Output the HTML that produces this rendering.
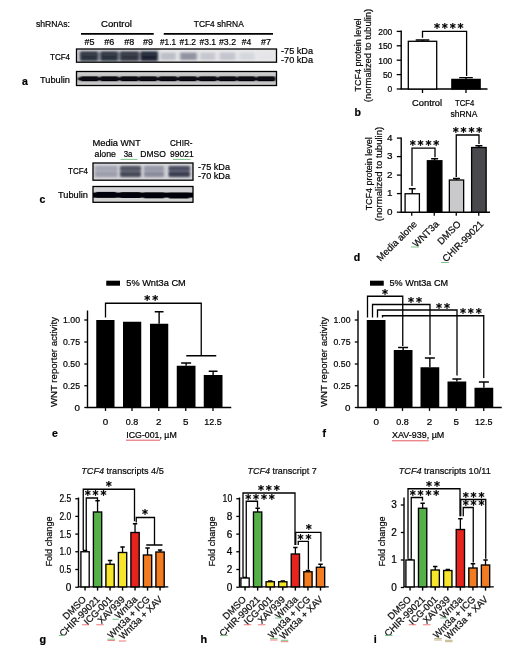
<!DOCTYPE html>
<html lang="en">
<head>
<meta charset="utf-8">
<title>TCF4 figure</title>
<style>
html,body{margin:0;padding:0;background:#fff;}
body{width:520px;height:651px;overflow:hidden;}
svg{display:block;font-family:"Liberation Sans", "DejaVu Sans", sans-serif;}
svg text{font-family:"Liberation Sans", "DejaVu Sans", sans-serif;stroke:#000;stroke-width:.22px;}
</style>
</head>
<body>
<svg width="520" height="651" viewBox="0 0 520 651">
<rect x="0" y="0" width="520" height="651" fill="#fff"/>
<defs>
<filter id="b1" x="-20%" y="-50%" width="140%" height="200%"><feGaussianBlur stdDeviation="1.1 0.9"/></filter>
<filter id="b2" x="-20%" y="-50%" width="140%" height="200%"><feGaussianBlur stdDeviation="1.6 1.2"/></filter>
<filter id="b3" x="-20%" y="-80%" width="140%" height="260%"><feGaussianBlur stdDeviation="1.3 0.8"/></filter>
<clipPath id="ca1"><rect x="76.5" y="49" width="200" height="13.2"/></clipPath>
<clipPath id="ca2"><rect x="76.5" y="71.5" width="200" height="14"/></clipPath>
<clipPath id="cc1"><rect x="93" y="163" width="100" height="17.2"/></clipPath>
<clipPath id="cc2"><rect x="93" y="186.5" width="100" height="15.8"/></clipPath>
<filter id="b4" x="-20%" y="-80%" width="140%" height="260%"><feGaussianBlur stdDeviation="1.2 0.65"/></filter>
</defs>
<text x="36" y="26.7" font-size="9.7" textLength="34" lengthAdjust="spacingAndGlyphs" fill="#000">shRNAs:</text>
<text x="101" y="26.7" font-size="9.7" textLength="31" lengthAdjust="spacingAndGlyphs" fill="#000">Control</text>
<text x="193.75" y="26.7" font-size="9.7" textLength="50" lengthAdjust="spacingAndGlyphs" fill="#000">TCF4 shRNA</text>
<path d="M81,33.8H153.75M163.75,33.8H273" fill="none" stroke="#000" stroke-width="1.8"/>
<text x="89.5" y="45.1" font-size="9.7" text-anchor="middle" textLength="10" lengthAdjust="spacingAndGlyphs" fill="#000">#5</text>
<text x="109.3" y="45.1" font-size="9.7" text-anchor="middle" textLength="10" lengthAdjust="spacingAndGlyphs" fill="#000">#6</text>
<text x="129.3" y="45.1" font-size="9.7" text-anchor="middle" textLength="10" lengthAdjust="spacingAndGlyphs" fill="#000">#8</text>
<text x="148" y="45.1" font-size="9.7" text-anchor="middle" textLength="10" lengthAdjust="spacingAndGlyphs" fill="#000">#9</text>
<text x="168" y="45.1" font-size="9.7" text-anchor="middle" textLength="16" lengthAdjust="spacingAndGlyphs" fill="#000">#1.1</text>
<text x="187.75" y="45.1" font-size="9.7" text-anchor="middle" textLength="16.5" lengthAdjust="spacingAndGlyphs" fill="#000">#1.2</text>
<text x="207.75" y="45.1" font-size="9.7" text-anchor="middle" textLength="16.5" lengthAdjust="spacingAndGlyphs" fill="#000">#3.1</text>
<text x="227.5" y="45.1" font-size="9.7" text-anchor="middle" textLength="17" lengthAdjust="spacingAndGlyphs" fill="#000">#3.2</text>
<text x="246.4" y="45.1" font-size="9.7" text-anchor="middle" textLength="9.5" lengthAdjust="spacingAndGlyphs" fill="#000">#4</text>
<text x="266" y="45.1" font-size="9.7" text-anchor="middle" textLength="10" lengthAdjust="spacingAndGlyphs" fill="#000">#7</text>
<text x="50" y="60.2" font-size="9.7" textLength="20" lengthAdjust="spacingAndGlyphs" fill="#000">TCF4</text>
<text x="40" y="82.7" font-size="9.7" textLength="30" lengthAdjust="spacingAndGlyphs" fill="#000">Tubulin</text>
<text x="281" y="53.7" font-size="9.7" textLength="32" lengthAdjust="spacingAndGlyphs" fill="#000">-75 kDa</text>
<text x="281" y="62.9" font-size="9.7" textLength="32" lengthAdjust="spacingAndGlyphs" fill="#000">-70 kDa</text>
<text x="22" y="85.2" font-size="10.5" font-weight="bold" fill="#000">a</text>
<rect x="76.50" y="49.00" width="200.00" height="13.20" fill="#e9e9ec"/>
<g clip-path="url(#ca1)">
<rect x="76.50" y="49.00" width="82.50" height="13.20" fill="#c9cad0" filter="url(#b2)"/>
<rect x="80.00" y="52.00" width="78.00" height="8.60" fill="#7c7f8c" filter="url(#b2)"/>
<rect x="80.50" y="51.80" width="17.00" height="8.80" fill="#2c303c" filter="url(#b1)"/>
<rect x="81.50" y="54.20" width="15.00" height="1.00" fill="#5b6070" filter="url(#b1)" opacity=".8"/>
<rect x="101.00" y="51.80" width="16.60" height="8.80" fill="#2c303c" filter="url(#b1)"/>
<rect x="102.00" y="54.20" width="14.60" height="1.00" fill="#5b6070" filter="url(#b1)" opacity=".8"/>
<rect x="120.50" y="51.80" width="18.00" height="8.80" fill="#30343f" filter="url(#b1)"/>
<rect x="121.50" y="54.20" width="16.00" height="1.00" fill="#5b6070" filter="url(#b1)" opacity=".8"/>
<rect x="141.00" y="51.80" width="16.30" height="8.80" fill="#1f2330" filter="url(#b1)"/>
<rect x="142.00" y="54.20" width="14.30" height="1.00" fill="#5b6070" filter="url(#b1)" opacity=".8"/>
<rect x="160.50" y="52.50" width="15.50" height="7.50" fill="#b9bac4" filter="url(#b2)" opacity="0.9"/>
<rect x="180.00" y="52.50" width="17.00" height="7.50" fill="#8d8f9e" filter="url(#b2)" opacity="0.95"/>
<rect x="200.00" y="52.50" width="15.50" height="7.50" fill="#c3c4cd" filter="url(#b2)" opacity="0.9"/>
<rect x="219.50" y="52.50" width="16.00" height="7.50" fill="#c0c1ca" filter="url(#b2)" opacity="0.9"/>
<rect x="239.00" y="52.50" width="15.50" height="7.50" fill="#d4d5db" filter="url(#b2)" opacity="0.9"/>
<rect x="258.50" y="52.50" width="15.00" height="7.50" fill="#e4e4e8" filter="url(#b2)" opacity="0.8"/>
</g>
<rect x="76.50" y="49.00" width="200.00" height="13.20" fill="none" stroke="#000" stroke-width="1.3"/>
<rect x="76.50" y="71.50" width="200.00" height="14.00" fill="#bdbdbf"/>
<g clip-path="url(#ca2)">
<rect x="76.50" y="72.00" width="200.00" height="2.50" fill="#d6d6d8" filter="url(#b3)"/>
<rect x="76.50" y="83.00" width="200.00" height="2.50" fill="#cfcfd1" filter="url(#b3)"/>
<rect x="80.70" y="76.40" width="17.60" height="4.80" fill="#06060a" filter="url(#b4)"/>
<rect x="100.50" y="76.40" width="17.60" height="4.80" fill="#06060a" filter="url(#b4)"/>
<rect x="120.50" y="76.40" width="17.60" height="4.80" fill="#06060a" filter="url(#b4)"/>
<rect x="139.20" y="76.40" width="17.60" height="4.80" fill="#06060a" filter="url(#b4)"/>
<rect x="159.20" y="76.40" width="17.60" height="4.80" fill="#06060a" filter="url(#b4)"/>
<rect x="178.95" y="76.40" width="17.60" height="4.80" fill="#06060a" filter="url(#b4)"/>
<rect x="198.95" y="76.40" width="17.60" height="4.80" fill="#06060a" filter="url(#b4)"/>
<rect x="218.70" y="76.40" width="17.60" height="4.80" fill="#06060a" filter="url(#b4)"/>
<rect x="237.60" y="76.40" width="17.60" height="4.80" fill="#06060a" filter="url(#b4)"/>
<rect x="257.20" y="76.40" width="17.60" height="4.80" fill="#06060a" filter="url(#b4)"/>
<rect x="78.00" y="77.40" width="197.00" height="2.80" fill="#101014" filter="url(#b4)"/>
</g>
<rect x="76.50" y="71.50" width="200.00" height="14.00" fill="none" stroke="#000" stroke-width="1.3"/>
<path d="M401.2,30.6V89H487.5" fill="none" stroke="#000" stroke-width="1.4"/>
<path d="M396.7,31.4H401.2" fill="none" stroke="#000" stroke-width="1.3"/>
<text x="392.3" y="34.699999999999996" font-size="9.6" text-anchor="end" textLength="14.100000000000001" lengthAdjust="spacingAndGlyphs" fill="#000">200</text>
<path d="M396.7,45.8H401.2" fill="none" stroke="#000" stroke-width="1.3"/>
<text x="392.3" y="49.099999999999994" font-size="9.6" text-anchor="end" textLength="14.100000000000001" lengthAdjust="spacingAndGlyphs" fill="#000">150</text>
<path d="M396.7,60.2H401.2" fill="none" stroke="#000" stroke-width="1.3"/>
<text x="392.3" y="63.5" font-size="9.6" text-anchor="end" textLength="14.100000000000001" lengthAdjust="spacingAndGlyphs" fill="#000">100</text>
<path d="M396.7,74.6H401.2" fill="none" stroke="#000" stroke-width="1.3"/>
<text x="392.3" y="77.89999999999999" font-size="9.6" text-anchor="end" textLength="9.4" lengthAdjust="spacingAndGlyphs" fill="#000">50</text>
<path d="M396.7,89.0H401.2" fill="none" stroke="#000" stroke-width="1.3"/>
<text x="392.3" y="92.3" font-size="9.6" text-anchor="end" textLength="4.7" lengthAdjust="spacingAndGlyphs" fill="#000">0</text>
<path d="M422.50,41.30V40.00M415.70,40.00H429.30" fill="none" stroke="#000" stroke-width="1.4"/>
<rect x="408.30" y="41.30" width="28.40" height="47.70" fill="#fff" stroke="#000" stroke-width="1.3"/>
<path d="M466.00,79.40V77.60M459.20,77.60H472.80" fill="none" stroke="#000" stroke-width="1.4"/>
<rect x="451.85" y="79.40" width="28.30" height="9.60" fill="#000" stroke="#000" stroke-width="1.3"/>
<path d="M422.5,37.8V31.4H466.6V76" fill="none" stroke="#000" stroke-width="1.3"/>
<text x="434.01 441.86 449.71 457.56" y="32.47" font-size="11.5" font-weight="bold" style="font-family:'DejaVu Sans','Liberation Sans',sans-serif" fill="#000">****</text>
<path d="M422.5,89V93M466,89V93" fill="none" stroke="#000" stroke-width="1.3"/>
<text x="411.9" y="105.8" font-size="9.7" textLength="30.3" lengthAdjust="spacingAndGlyphs" fill="#000">Control</text>
<text x="455" y="105.8" font-size="9.7" textLength="19.2" lengthAdjust="spacingAndGlyphs" fill="#000">TCF4</text>
<text x="450.4" y="116.6" font-size="9.7" textLength="27" lengthAdjust="spacingAndGlyphs" fill="#000">shRNA</text>
<text transform="translate(360.8 54.9) rotate(-90)" font-size="9.7" text-anchor="middle" textLength="73" lengthAdjust="spacingAndGlyphs" fill="#111">TCF4 protein level</text>
<text transform="translate(370.8 55.5) rotate(-90)" font-size="9.7" text-anchor="middle" textLength="93.5" lengthAdjust="spacingAndGlyphs" fill="#111">(normalized to tubulin)</text>
<text x="354.6" y="115.6" font-size="10.5" font-weight="bold" fill="#000">b</text>
<path d="M401.2,137.4V212.2H490" fill="none" stroke="#000" stroke-width="1.4"/>
<path d="M396.9,138.1H401.2" fill="none" stroke="#000" stroke-width="1.3"/>
<text x="392.4" y="140.79999999999998" font-size="9.9" text-anchor="end" fill="#000">4</text>
<path d="M396.9,156.6H401.2" fill="none" stroke="#000" stroke-width="1.3"/>
<text x="392.4" y="159.29999999999998" font-size="9.9" text-anchor="end" fill="#000">3</text>
<path d="M396.9,175.1H401.2" fill="none" stroke="#000" stroke-width="1.3"/>
<text x="392.4" y="177.79999999999998" font-size="9.9" text-anchor="end" fill="#000">2</text>
<path d="M396.9,193.6H401.2" fill="none" stroke="#000" stroke-width="1.3"/>
<text x="392.4" y="196.29999999999998" font-size="9.9" text-anchor="end" fill="#000">1</text>
<path d="M396.9,212.2H401.2" fill="none" stroke="#000" stroke-width="1.3"/>
<text x="392.4" y="214.89999999999998" font-size="9.9" text-anchor="end" fill="#000">0</text>
<path d="M412.25,193.75V188.75M408.85,188.75H415.65" fill="none" stroke="#000" stroke-width="1.4"/>
<rect x="405.10" y="193.75" width="14.30" height="18.45" fill="#fff" stroke="#000" stroke-width="1.3"/>
<path d="M434.62,160.75V158.75M431.12,158.75H438.12" fill="none" stroke="#000" stroke-width="1.4"/>
<rect x="427.35" y="160.75" width="14.55" height="51.45" fill="#000" stroke="#000" stroke-width="1.3"/>
<path d="M456.50,180.00V178.50M453.00,178.50H460.00" fill="none" stroke="#000" stroke-width="1.4"/>
<rect x="449.35" y="180.00" width="14.30" height="32.20" fill="#c9c9cb" stroke="#000" stroke-width="1.3"/>
<path d="M478.88,147.50V145.75M475.38,145.75H482.38" fill="none" stroke="#000" stroke-width="1.4"/>
<rect x="471.60" y="147.50" width="14.55" height="64.70" fill="#48484d" stroke="#000" stroke-width="1.3"/>
<path d="M412,186V148.2H435V157.3" fill="none" stroke="#000" stroke-width="1.3"/>
<text x="409.76 417.61 425.46 433.31" y="149.47" font-size="11.5" font-weight="bold" style="font-family:'DejaVu Sans','Liberation Sans',sans-serif" fill="#000">****</text>
<path d="M456.25,177V135H479V144" fill="none" stroke="#000" stroke-width="1.3"/>
<text x="452.76 460.61 468.46 476.31" y="135.87" font-size="11.5" font-weight="bold" style="font-family:'DejaVu Sans','Liberation Sans',sans-serif" fill="#000">****</text>
<path d="M411.75,212.2V215.8M434.25,212.2V215.8M456.25,212.2V215.8M478.75,212.2V215.8" fill="none" stroke="#000" stroke-width="1.3"/>
<text transform="translate(417.5 224.8) rotate(-45)" font-size="9.6" text-anchor="end" fill="#111">Media alone</text>
<text transform="translate(439.5 224.8) rotate(-45)" font-size="9.6" text-anchor="end" fill="#111">WNT3a</text>
<text transform="translate(461.5 224.8) rotate(-45)" font-size="9.6" text-anchor="end" fill="#111">DMSO</text>
<text transform="translate(484 224.8) rotate(-45)" font-size="9.6" text-anchor="end" fill="#111">CHIR-99021</text>
<path d="M411,247H419" fill="none" stroke="#6cc07a" stroke-width="0.9"/>
<path d="M441,262.5H449" fill="none" stroke="#6cc07a" stroke-width="0.9"/>
<text transform="translate(371.5 173.85) rotate(-90)" font-size="9.7" text-anchor="middle" textLength="73" lengthAdjust="spacingAndGlyphs" fill="#111">TCF4 protein level</text>
<text transform="translate(381.6 174) rotate(-90)" font-size="9.7" text-anchor="middle" textLength="94.4" lengthAdjust="spacingAndGlyphs" fill="#111">(normalized to tubulin)</text>
<text x="353.75" y="260.5" font-size="10.5" font-weight="bold" fill="#000">d</text>
<text x="92.5" y="145.9" font-size="9.7" textLength="25.5" lengthAdjust="spacingAndGlyphs" fill="#000">Media</text>
<text x="120.5" y="145.9" font-size="9.7" textLength="20" lengthAdjust="spacingAndGlyphs" fill="#000">WNT</text>
<text x="94.5" y="156.9" font-size="9.7" textLength="21.5" lengthAdjust="spacingAndGlyphs" fill="#000">alone</text>
<text x="123.75" y="156.9" font-size="9.7" textLength="8.75" lengthAdjust="spacingAndGlyphs" fill="#000">3a</text>
<text x="140.3" y="156.9" font-size="9.7" textLength="25.5" lengthAdjust="spacingAndGlyphs" fill="#000">DMSO</text>
<text x="170" y="145.9" font-size="9.7" textLength="22.5" lengthAdjust="spacingAndGlyphs" fill="#000">CHIR-</text>
<text x="170" y="156.9" font-size="9.7" textLength="23.75" lengthAdjust="spacingAndGlyphs" fill="#000">99021</text>
<path d="M120.5,159.4H137.5" fill="none" stroke="#6cc07a" stroke-width="0.9"/>
<path d="M173,159.4H190.5" fill="none" stroke="#6cc07a" stroke-width="0.9"/>
<text x="68" y="174.3" font-size="9.7" textLength="20" lengthAdjust="spacingAndGlyphs" fill="#000">TCF4</text>
<text x="58" y="197.7" font-size="9.7" textLength="30" lengthAdjust="spacingAndGlyphs" fill="#000">Tubulin</text>
<text x="198" y="169.6" font-size="9.7" textLength="32" lengthAdjust="spacingAndGlyphs" fill="#000">-75 kDa</text>
<text x="198" y="179.4" font-size="9.7" textLength="32" lengthAdjust="spacingAndGlyphs" fill="#000">-70 kDa</text>
<text x="39.5" y="202.5" font-size="10.5" font-weight="bold" fill="#000">c</text>
<rect x="93.00" y="163.00" width="100.00" height="17.20" fill="#cdcdd2"/>
<g clip-path="url(#cc1)">
<rect x="93.00" y="163.00" width="100.00" height="2.00" fill="#e2e2e6" filter="url(#b3)"/>
<rect x="93.00" y="178.00" width="100.00" height="2.20" fill="#dcdce0" filter="url(#b3)"/>
<rect x="95.50" y="166.30" width="21.50" height="10.30" fill="#a3a5b3" filter="url(#b1)" opacity=".75"/>
<rect x="95.50" y="166.60" width="21.50" height="3.80" fill="#a3a5b3" filter="url(#b1)"/>
<rect x="95.50" y="172.00" width="21.50" height="4.40" fill="#9b9dab" filter="url(#b1)"/>
<rect x="120.50" y="166.30" width="20.00" height="10.30" fill="#4f5262" filter="url(#b1)" opacity=".75"/>
<rect x="120.50" y="166.60" width="20.00" height="3.80" fill="#4f5262" filter="url(#b1)"/>
<rect x="120.50" y="172.00" width="20.00" height="4.40" fill="#444757" filter="url(#b1)"/>
<rect x="144.50" y="166.30" width="19.00" height="10.30" fill="#9698a7" filter="url(#b1)" opacity=".75"/>
<rect x="144.50" y="166.60" width="19.00" height="3.80" fill="#9698a7" filter="url(#b1)"/>
<rect x="144.50" y="172.00" width="19.00" height="4.40" fill="#888a9a" filter="url(#b1)"/>
<rect x="169.00" y="166.30" width="20.50" height="10.30" fill="#4a4d62" filter="url(#b1)" opacity=".75"/>
<rect x="169.00" y="166.60" width="20.50" height="3.80" fill="#4a4d62" filter="url(#b1)"/>
<rect x="169.00" y="172.00" width="20.50" height="4.40" fill="#3a3d50" filter="url(#b1)"/>
</g>
<rect x="93.00" y="163.00" width="100.00" height="17.20" fill="none" stroke="#000" stroke-width="1.3"/>
<rect x="93.00" y="186.50" width="100.00" height="15.80" fill="#d4d4d6"/>
<g clip-path="url(#cc2)">
<rect x="91.00" y="192.60" width="104.00" height="5.00" fill="#050508" filter="url(#b4)"/>
<rect x="96.00" y="191.90" width="20.00" height="5.80" fill="#050508" filter="url(#b4)"/>
<rect x="120.50" y="192.20" width="20.00" height="5.80" fill="#050508" filter="url(#b4)"/>
<rect x="144.00" y="192.50" width="20.00" height="5.80" fill="#050508" filter="url(#b4)"/>
<rect x="169.00" y="192.70" width="20.00" height="5.80" fill="#050508" filter="url(#b4)"/>
</g>
<rect x="93.00" y="186.50" width="100.00" height="15.80" fill="none" stroke="#000" stroke-width="1.3"/>
<rect x="106.25" y="280.70" width="13.75" height="5.00" fill="#000"/>
<text x="126.25" y="285.7" font-size="9.7" textLength="59.5" lengthAdjust="spacingAndGlyphs" fill="#000">5% Wnt3a CM</text>
<path d="M87.5,310.5V407.5H231.25" fill="none" stroke="#000" stroke-width="1.4"/>
<path d="M84.3,320H87.5" fill="none" stroke="#000" stroke-width="1.3"/>
<text x="80.0" y="323.3" font-size="9.8" text-anchor="end" textLength="17" lengthAdjust="spacingAndGlyphs" fill="#000">1.00</text>
<path d="M84.3,342H87.5" fill="none" stroke="#000" stroke-width="1.3"/>
<text x="80.0" y="345.3" font-size="9.8" text-anchor="end" textLength="17" lengthAdjust="spacingAndGlyphs" fill="#000">0.75</text>
<path d="M84.3,364H87.5" fill="none" stroke="#000" stroke-width="1.3"/>
<text x="80.0" y="367.3" font-size="9.8" text-anchor="end" textLength="17" lengthAdjust="spacingAndGlyphs" fill="#000">0.50</text>
<path d="M84.3,385.75H87.5" fill="none" stroke="#000" stroke-width="1.3"/>
<text x="80.0" y="389.05" font-size="9.8" text-anchor="end" textLength="17" lengthAdjust="spacingAndGlyphs" fill="#000">0.25</text>
<path d="M84.3,407.5H87.5" fill="none" stroke="#000" stroke-width="1.3"/>
<text x="80.0" y="410.8" font-size="9.8" text-anchor="end" fill="#000">0</text>
<rect x="96.25" y="320.00" width="18.25" height="87.50" fill="#000"/>
<rect x="123.00" y="321.75" width="18.25" height="85.75" fill="#000"/>
<path d="M159.12,323.75V311.75M154.72,311.75H163.53" fill="none" stroke="#000" stroke-width="1.4"/>
<rect x="150.00" y="323.75" width="18.25" height="83.75" fill="#000"/>
<path d="M186.12,365.75V363.00M181.12,363.00H191.12" fill="none" stroke="#000" stroke-width="1.4"/>
<rect x="176.75" y="365.75" width="18.75" height="41.75" fill="#000"/>
<path d="M213.12,375.00V371.25M208.72,371.25H217.53" fill="none" stroke="#000" stroke-width="1.4"/>
<rect x="203.75" y="375.00" width="18.75" height="32.50" fill="#000"/>
<path d="M105.5,407.5V410.9" fill="none" stroke="#000" stroke-width="1.3"/>
<text x="105.5" y="424.5" font-size="9.8" text-anchor="middle" fill="#000">0</text>
<path d="M132,407.5V410.9" fill="none" stroke="#000" stroke-width="1.3"/>
<text x="132" y="424.5" font-size="9.8" text-anchor="middle" textLength="12.5" lengthAdjust="spacingAndGlyphs" fill="#000">0.8</text>
<path d="M158.75,407.5V410.9" fill="none" stroke="#000" stroke-width="1.3"/>
<text x="158.75" y="424.5" font-size="9.8" text-anchor="middle" fill="#000">2</text>
<path d="M185.75,407.5V410.9" fill="none" stroke="#000" stroke-width="1.3"/>
<text x="185.75" y="424.5" font-size="9.8" text-anchor="middle" fill="#000">5</text>
<path d="M213,407.5V410.9" fill="none" stroke="#000" stroke-width="1.3"/>
<text x="213" y="424.5" font-size="9.8" text-anchor="middle" textLength="17.5" lengthAdjust="spacingAndGlyphs" fill="#000">12.5</text>
<text x="126.25" y="437.7" font-size="9.7" textLength="50.5" lengthAdjust="spacingAndGlyphs" fill="#000">ICG-001, µM</text>
<path d="M126,440.2H160" fill="none" stroke="#e0454f" stroke-width="0.9"/>
<text transform="translate(56.8 362) rotate(-90)" font-size="9.7" text-anchor="middle" textLength="90" lengthAdjust="spacingAndGlyphs" fill="#111">WNT reporter activity</text>
<text x="52" y="437" font-size="10.5" font-weight="bold" fill="#000">e</text>
<path d="M105.5,317.5V303.25H201.25V355.75M186.25,355.75H216.25" fill="none" stroke="#000" stroke-width="1.3"/>
<text x="144.36 152.21" y="303.87" font-size="11.5" font-weight="bold" style="font-family:'DejaVu Sans','Liberation Sans',sans-serif" fill="#000">**</text>
<rect x="370.00" y="280.70" width="13.75" height="5.00" fill="#000"/>
<text x="389.5" y="285.7" font-size="9.7" textLength="58.5" lengthAdjust="spacingAndGlyphs" fill="#000">5% Wnt3a CM</text>
<path d="M358,310.5V407.5H501.75" fill="none" stroke="#000" stroke-width="1.4"/>
<path d="M354.8,320H358" fill="none" stroke="#000" stroke-width="1.3"/>
<text x="350.5" y="323.3" font-size="9.8" text-anchor="end" textLength="17" lengthAdjust="spacingAndGlyphs" fill="#000">1.00</text>
<path d="M354.8,342H358" fill="none" stroke="#000" stroke-width="1.3"/>
<text x="350.5" y="345.3" font-size="9.8" text-anchor="end" textLength="17" lengthAdjust="spacingAndGlyphs" fill="#000">0.75</text>
<path d="M354.8,364H358" fill="none" stroke="#000" stroke-width="1.3"/>
<text x="350.5" y="367.3" font-size="9.8" text-anchor="end" textLength="17" lengthAdjust="spacingAndGlyphs" fill="#000">0.50</text>
<path d="M354.8,385.75H358" fill="none" stroke="#000" stroke-width="1.3"/>
<text x="350.5" y="389.05" font-size="9.8" text-anchor="end" textLength="17" lengthAdjust="spacingAndGlyphs" fill="#000">0.25</text>
<path d="M354.8,407.5H358" fill="none" stroke="#000" stroke-width="1.3"/>
<text x="350.5" y="410.8" font-size="9.8" text-anchor="end" fill="#000">0</text>
<rect x="366.75" y="320.00" width="18.75" height="87.50" fill="#000"/>
<path d="M403.12,350.00V347.50M398.12,347.50H408.12" fill="none" stroke="#000" stroke-width="1.4"/>
<rect x="393.75" y="350.00" width="18.75" height="57.50" fill="#000"/>
<path d="M429.88,367.25V358.00M424.88,358.00H434.88" fill="none" stroke="#000" stroke-width="1.4"/>
<rect x="420.50" y="367.25" width="18.75" height="40.25" fill="#000"/>
<path d="M456.88,381.50V379.00M452.38,379.00H461.38" fill="none" stroke="#000" stroke-width="1.4"/>
<rect x="447.50" y="381.50" width="18.75" height="26.00" fill="#000"/>
<path d="M483.88,387.75V382.00M478.88,382.00H488.88" fill="none" stroke="#000" stroke-width="1.4"/>
<rect x="474.50" y="387.75" width="18.75" height="19.75" fill="#000"/>
<path d="M376.25,407.5V410.9" fill="none" stroke="#000" stroke-width="1.3"/>
<text x="376.25" y="424.5" font-size="9.8" text-anchor="middle" fill="#000">0</text>
<path d="M402.5,407.5V410.9" fill="none" stroke="#000" stroke-width="1.3"/>
<text x="402.5" y="424.5" font-size="9.8" text-anchor="middle" textLength="12.5" lengthAdjust="spacingAndGlyphs" fill="#000">0.8</text>
<path d="M429.5,407.5V410.9" fill="none" stroke="#000" stroke-width="1.3"/>
<text x="429.5" y="424.5" font-size="9.8" text-anchor="middle" fill="#000">2</text>
<path d="M456.25,407.5V410.9" fill="none" stroke="#000" stroke-width="1.3"/>
<text x="456.25" y="424.5" font-size="9.8" text-anchor="middle" fill="#000">5</text>
<path d="M483.75,407.5V410.9" fill="none" stroke="#000" stroke-width="1.3"/>
<text x="483.75" y="424.5" font-size="9.8" text-anchor="middle" textLength="17.5" lengthAdjust="spacingAndGlyphs" fill="#000">12.5</text>
<text x="392" y="437.7" font-size="9.7" textLength="52.25" lengthAdjust="spacingAndGlyphs" fill="#000">XAV-939, µM</text>
<path d="M392,440.8H428.75" fill="none" stroke="#e0454f" stroke-width="0.9"/>
<text transform="translate(327 362) rotate(-90)" font-size="9.7" text-anchor="middle" textLength="90" lengthAdjust="spacingAndGlyphs" fill="#111">WNT reporter activity</text>
<text x="322.5" y="437" font-size="10.5" font-weight="bold" fill="#000">f</text>
<path d="M367.5,317.5V296.25H402.75V346" fill="none" stroke="#000" stroke-width="1.3"/>
<path d="M372.5,317.5V304.5H430V355" fill="none" stroke="#000" stroke-width="1.3"/>
<path d="M377.5,317.5V310H457V375.5" fill="none" stroke="#000" stroke-width="1.3"/>
<path d="M382.5,317.5V315.75H483.75V378" fill="none" stroke="#000" stroke-width="1.3"/>
<text x="382.04" y="298.37" font-size="11.5" font-weight="bold" style="font-family:'DejaVu Sans','Liberation Sans',sans-serif" fill="#000">*</text>
<text x="408.11 415.96" y="306.37" font-size="11.5" font-weight="bold" style="font-family:'DejaVu Sans','Liberation Sans',sans-serif" fill="#000">**</text>
<text x="436.11 443.96" y="311.62" font-size="11.5" font-weight="bold" style="font-family:'DejaVu Sans','Liberation Sans',sans-serif" fill="#000">**</text>
<text x="459.94 467.79 475.64" y="317.12" font-size="11.5" font-weight="bold" style="font-family:'DejaVu Sans','Liberation Sans',sans-serif" fill="#000">***</text>
<path d="M78.5,497.5V586.9H168.30" fill="none" stroke="#000" stroke-width="1.4"/>
<path d="M75.3,498.75H78.5" fill="none" stroke="#000" stroke-width="1.3"/>
<text x="71.2" y="502.15" font-size="10" text-anchor="end" textLength="11.8" lengthAdjust="spacingAndGlyphs" fill="#000">2.5</text>
<path d="M75.3,516.4H78.5" fill="none" stroke="#000" stroke-width="1.3"/>
<text x="71.2" y="519.8" font-size="10" text-anchor="end" textLength="11.8" lengthAdjust="spacingAndGlyphs" fill="#000">2.0</text>
<path d="M75.3,534.1H78.5" fill="none" stroke="#000" stroke-width="1.3"/>
<text x="71.2" y="537.5" font-size="10" text-anchor="end" textLength="11.8" lengthAdjust="spacingAndGlyphs" fill="#000">1.5</text>
<path d="M75.3,551.75H78.5" fill="none" stroke="#000" stroke-width="1.3"/>
<text x="71.2" y="555.15" font-size="10" text-anchor="end" textLength="11.8" lengthAdjust="spacingAndGlyphs" fill="#000">1.0</text>
<path d="M75.3,569.5H78.5" fill="none" stroke="#000" stroke-width="1.3"/>
<text x="71.2" y="572.9" font-size="10" text-anchor="end" textLength="11.8" lengthAdjust="spacingAndGlyphs" fill="#000">0.5</text>
<path d="M75.3,587.25H78.5" fill="none" stroke="#000" stroke-width="1.3"/>
<text x="71.2" y="590.65" font-size="10" text-anchor="end" fill="#000">0</text>
<path d="M85.05,551.75V550.50M82.85,550.50H87.25" fill="none" stroke="#000" stroke-width="1.3"/>
<rect x="80.90" y="551.75" width="8.30" height="35.15" fill="#fff" stroke="#000" stroke-width="1.35"/>
<path d="M85.05,586.9V590.6" fill="none" stroke="#000" stroke-width="1.4"/>
<text transform="translate(86.75 600) rotate(-45)" font-size="9.5" text-anchor="end" fill="#111">DMSO</text>
<path d="M97.55,512.00V500.75M95.35,500.75H99.75" fill="none" stroke="#000" stroke-width="1.3"/>
<rect x="93.40" y="512.00" width="8.30" height="74.90" fill="#55b147" stroke="#000" stroke-width="1.35"/>
<path d="M97.55,586.9V590.6" fill="none" stroke="#000" stroke-width="1.4"/>
<text transform="translate(100.55 600) rotate(-45)" font-size="9.5" text-anchor="end" fill="#111">CHIR-99021</text>
<path d="M110.05,564.25V560.50M107.85,560.50H112.25" fill="none" stroke="#000" stroke-width="1.3"/>
<rect x="105.90" y="564.25" width="8.30" height="22.65" fill="#f7e52b" stroke="#000" stroke-width="1.35"/>
<path d="M110.05,586.9V590.6" fill="none" stroke="#000" stroke-width="1.4"/>
<text transform="translate(113.05 600) rotate(-45)" font-size="9.5" text-anchor="end" fill="#111">ICG-001</text>
<path d="M122.55,552.50V547.00M120.35,547.00H124.75" fill="none" stroke="#000" stroke-width="1.3"/>
<rect x="118.40" y="552.50" width="8.30" height="34.40" fill="#f7e52b" stroke="#000" stroke-width="1.35"/>
<path d="M122.55,586.9V590.6" fill="none" stroke="#000" stroke-width="1.4"/>
<text transform="translate(125.55 600) rotate(-45)" font-size="9.5" text-anchor="end" fill="#111">XAV939</text>
<path d="M135.05,532.50V523.75M132.85,523.75H137.25" fill="none" stroke="#000" stroke-width="1.3"/>
<rect x="130.90" y="532.50" width="8.30" height="54.40" fill="#e7231e" stroke="#000" stroke-width="1.35"/>
<path d="M135.05,586.9V590.6" fill="none" stroke="#000" stroke-width="1.4"/>
<text transform="translate(138.05 600) rotate(-45)" font-size="9.5" text-anchor="end" fill="#111">Wnt3a</text>
<path d="M147.55,555.00V548.00M145.35,548.00H149.75" fill="none" stroke="#000" stroke-width="1.3"/>
<rect x="143.40" y="555.00" width="8.30" height="31.90" fill="#f47c20" stroke="#000" stroke-width="1.35"/>
<path d="M147.55,586.9V590.6" fill="none" stroke="#000" stroke-width="1.4"/>
<text transform="translate(150.55 600) rotate(-45)" font-size="9.5" text-anchor="end" fill="#111">Wnt3a + ICG</text>
<path d="M160.05,552.00V550.00M157.85,550.00H162.25" fill="none" stroke="#000" stroke-width="1.3"/>
<rect x="155.90" y="552.00" width="8.30" height="34.90" fill="#f47c20" stroke="#000" stroke-width="1.35"/>
<path d="M160.05,586.9V590.6" fill="none" stroke="#000" stroke-width="1.4"/>
<text transform="translate(163.05 600) rotate(-45)" font-size="9.5" text-anchor="end" fill="#111">Wnt3a + XAV</text>
<text x="81.25" y="474" font-size="9.7" textLength="82.5" lengthAdjust="spacingAndGlyphs" fill="#111"><tspan font-style="italic">TCF4</tspan> transcripts 4/5</text>
<text transform="translate(52 541.5) rotate(-90)" font-size="9.7" text-anchor="middle" textLength="50" lengthAdjust="spacingAndGlyphs" fill="#111">Fold change</text>
<text x="39.5" y="642.6" font-size="10.8" font-weight="bold" fill="#000">g</text>
<path d="M58.75,635.5H65" fill="none" stroke="#6cc07a" stroke-width="0.9"/>
<path d="M82,624.75H88.75" fill="none" stroke="#ee6a6a" stroke-width="0.9"/>
<path d="M96.25,624.75H103.75" fill="none" stroke="#ee6a6a" stroke-width="0.9"/>
<path d="M112.5,619.25H118.75" fill="none" stroke="#6cc07a" stroke-width="0.9"/>
<path d="M107.5,639.2H115" fill="none" stroke="#6cc07a" stroke-width="0.9"/>
<path d="M107.5,640.4H115" fill="none" stroke="#ee6a6a" stroke-width="0.9"/>
<path d="M118.75,641H126.25" fill="none" stroke="#ee6a6a" stroke-width="0.9"/>
<path d="M83.25,550V489.25H134.5V521.25" fill="none" stroke="#000" stroke-width="1.3"/>
<path d="M86.25,550V498H97.5V500" fill="none" stroke="#000" stroke-width="1.3"/>
<path d="M136.25,522.5V517.5H154.5V545M146.25,545H162.5" fill="none" stroke="#000" stroke-width="1.3"/>
<text x="105.79" y="489.62" font-size="11.5" font-weight="bold" style="font-family:'DejaVu Sans','Liberation Sans',sans-serif" fill="#000">*</text>
<text x="84.69 92.54 100.39" y="499.12" font-size="11.5" font-weight="bold" style="font-family:'DejaVu Sans','Liberation Sans',sans-serif" fill="#000">***</text>
<text x="142.04" y="518.37" font-size="11.5" font-weight="bold" style="font-family:'DejaVu Sans','Liberation Sans',sans-serif" fill="#000">*</text>
<path d="M239.5,497.5V586.9H328.78" fill="none" stroke="#000" stroke-width="1.4"/>
<path d="M236.3,498.75H239.5" fill="none" stroke="#000" stroke-width="1.3"/>
<text x="232.2" y="502.15" font-size="10" text-anchor="end" textLength="9.6" lengthAdjust="spacingAndGlyphs" fill="#000">10</text>
<path d="M236.3,516.4H239.5" fill="none" stroke="#000" stroke-width="1.3"/>
<text x="232.2" y="519.8" font-size="10" text-anchor="end" fill="#000">8</text>
<path d="M236.3,534.1H239.5" fill="none" stroke="#000" stroke-width="1.3"/>
<text x="232.2" y="537.5" font-size="10" text-anchor="end" fill="#000">6</text>
<path d="M236.3,551.75H239.5" fill="none" stroke="#000" stroke-width="1.3"/>
<text x="232.2" y="555.15" font-size="10" text-anchor="end" fill="#000">4</text>
<path d="M236.3,569.5H239.5" fill="none" stroke="#000" stroke-width="1.3"/>
<text x="232.2" y="572.9" font-size="10" text-anchor="end" fill="#000">2</text>
<path d="M236.3,587.25H239.5" fill="none" stroke="#000" stroke-width="1.3"/>
<text x="232.2" y="590.65" font-size="10" text-anchor="end" fill="#000">0</text>
<path d="M245.05,578.00V577.30M242.85,577.30H247.25" fill="none" stroke="#000" stroke-width="1.3"/>
<rect x="240.90" y="578.00" width="8.30" height="8.90" fill="#fff" stroke="#000" stroke-width="1.35"/>
<path d="M245.05,586.9V590.6" fill="none" stroke="#000" stroke-width="1.4"/>
<text transform="translate(246.75 600) rotate(-45)" font-size="9.5" text-anchor="end" fill="#111">DMSO</text>
<path d="M257.63,512.00V508.25M255.43,508.25H259.83" fill="none" stroke="#000" stroke-width="1.3"/>
<rect x="253.48" y="512.00" width="8.30" height="74.90" fill="#55b147" stroke="#000" stroke-width="1.35"/>
<path d="M257.63,586.9V590.6" fill="none" stroke="#000" stroke-width="1.4"/>
<text transform="translate(260.63 600) rotate(-45)" font-size="9.5" text-anchor="end" fill="#111">CHIR-99021</text>
<path d="M270.21,581.75V580.80M268.01,580.80H272.41" fill="none" stroke="#000" stroke-width="1.3"/>
<rect x="266.06" y="581.75" width="8.30" height="5.15" fill="#f7e52b" stroke="#000" stroke-width="1.35"/>
<path d="M270.21,586.9V590.6" fill="none" stroke="#000" stroke-width="1.4"/>
<text transform="translate(273.21 600) rotate(-45)" font-size="9.5" text-anchor="end" fill="#111">ICG-001</text>
<path d="M282.79,581.75V580.80M280.59,580.80H284.99" fill="none" stroke="#000" stroke-width="1.3"/>
<rect x="278.64" y="581.75" width="8.30" height="5.15" fill="#f7e52b" stroke="#000" stroke-width="1.35"/>
<path d="M282.79,586.9V590.6" fill="none" stroke="#000" stroke-width="1.4"/>
<text transform="translate(285.79 600) rotate(-45)" font-size="9.5" text-anchor="end" fill="#111">XAV939</text>
<path d="M295.37,554.00V547.50M293.17,547.50H297.57" fill="none" stroke="#000" stroke-width="1.3"/>
<rect x="291.22" y="554.00" width="8.30" height="32.90" fill="#e7231e" stroke="#000" stroke-width="1.35"/>
<path d="M295.37,586.9V590.6" fill="none" stroke="#000" stroke-width="1.4"/>
<text transform="translate(298.37 600) rotate(-45)" font-size="9.5" text-anchor="end" fill="#111">Wnt3a</text>
<path d="M307.95,571.75V570.50M305.75,570.50H310.15" fill="none" stroke="#000" stroke-width="1.3"/>
<rect x="303.80" y="571.75" width="8.30" height="15.15" fill="#f47c20" stroke="#000" stroke-width="1.35"/>
<path d="M307.95,586.9V590.6" fill="none" stroke="#000" stroke-width="1.4"/>
<text transform="translate(310.95 600) rotate(-45)" font-size="9.5" text-anchor="end" fill="#111">Wnt3a + ICG</text>
<path d="M320.53,567.25V564.25M318.33,564.25H322.73" fill="none" stroke="#000" stroke-width="1.3"/>
<rect x="316.38" y="567.25" width="8.30" height="19.65" fill="#f47c20" stroke="#000" stroke-width="1.35"/>
<path d="M320.53,586.9V590.6" fill="none" stroke="#000" stroke-width="1.4"/>
<text transform="translate(323.53 600) rotate(-45)" font-size="9.5" text-anchor="end" fill="#111">Wnt3a + XAV</text>
<text x="247.5" y="474" font-size="9.7" textLength="69.25" lengthAdjust="spacingAndGlyphs" fill="#111"><tspan font-style="italic">TCF4</tspan> transcript 7</text>
<text transform="translate(214.5 541.5) rotate(-90)" font-size="9.7" text-anchor="middle" textLength="50" lengthAdjust="spacingAndGlyphs" fill="#111">Fold change</text>
<text x="200.5" y="642.6" font-size="10.8" font-weight="bold" fill="#000">h</text>
<path d="M220,635.5H227.5" fill="none" stroke="#6cc07a" stroke-width="0.9"/>
<path d="M243.75,624.75H251.25" fill="none" stroke="#ee6a6a" stroke-width="0.9"/>
<path d="M258,624.75H265.5" fill="none" stroke="#ee6a6a" stroke-width="0.9"/>
<path d="M275,618H282.5" fill="none" stroke="#6cc07a" stroke-width="0.9"/>
<path d="M270,638.6H277.5" fill="none" stroke="#6cc07a" stroke-width="0.9"/>
<path d="M270,640H277.5" fill="none" stroke="#ee6a6a" stroke-width="0.9"/>
<path d="M280.75,640.3H288.25" fill="none" stroke="#6cc07a" stroke-width="0.9"/>
<path d="M280.75,641.7H288.25" fill="none" stroke="#ee6a6a" stroke-width="0.9"/>
<path d="M243,577V493H295V545" fill="none" stroke="#000" stroke-width="1.3"/>
<path d="M246.25,577V501.25H257.5V507.5" fill="none" stroke="#000" stroke-width="1.3"/>
<path d="M295.75,545V532.3H320.9V561.5" fill="none" stroke="#000" stroke-width="1.3"/>
<path d="M298.25,545V541.4H308.4V569.5" fill="none" stroke="#000" stroke-width="1.3"/>
<text x="257.94 265.79 273.64" y="494.12" font-size="11.5" font-weight="bold" style="font-family:'DejaVu Sans','Liberation Sans',sans-serif" fill="#000">***</text>
<text x="245.26 253.11 260.96 268.81" y="503.37" font-size="11.5" font-weight="bold" style="font-family:'DejaVu Sans','Liberation Sans',sans-serif" fill="#000">****</text>
<text x="305.79" y="533.37" font-size="11.5" font-weight="bold" style="font-family:'DejaVu Sans','Liberation Sans',sans-serif" fill="#000">*</text>
<text x="297.61 305.46" y="542.62" font-size="11.5" font-weight="bold" style="font-family:'DejaVu Sans','Liberation Sans',sans-serif" fill="#000">**</text>
<path d="M404,497.5V586.9H493.78" fill="none" stroke="#000" stroke-width="1.4"/>
<path d="M400.8,505H404" fill="none" stroke="#000" stroke-width="1.3"/>
<text x="396.7" y="508.4" font-size="10" text-anchor="end" fill="#000">3</text>
<path d="M400.8,532.5H404" fill="none" stroke="#000" stroke-width="1.3"/>
<text x="396.7" y="535.9" font-size="10" text-anchor="end" fill="#000">2</text>
<path d="M400.8,560H404" fill="none" stroke="#000" stroke-width="1.3"/>
<text x="396.7" y="563.4" font-size="10" text-anchor="end" fill="#000">1</text>
<path d="M400.8,587.5H404" fill="none" stroke="#000" stroke-width="1.3"/>
<text x="396.7" y="590.9" font-size="10" text-anchor="end" fill="#000">0</text>
<path d="M410.05,560.00V559.30M407.85,559.30H412.25" fill="none" stroke="#000" stroke-width="1.3"/>
<rect x="405.90" y="560.00" width="8.30" height="26.90" fill="#fff" stroke="#000" stroke-width="1.35"/>
<path d="M410.05,586.9V590.6" fill="none" stroke="#000" stroke-width="1.4"/>
<text transform="translate(411.75 600) rotate(-45)" font-size="9.5" text-anchor="end" fill="#111">DMSO</text>
<path d="M422.63,508.25V503.25M420.43,503.25H424.83" fill="none" stroke="#000" stroke-width="1.3"/>
<rect x="418.48" y="508.25" width="8.30" height="78.65" fill="#55b147" stroke="#000" stroke-width="1.35"/>
<path d="M422.63,586.9V590.6" fill="none" stroke="#000" stroke-width="1.4"/>
<text transform="translate(425.63 600) rotate(-45)" font-size="9.5" text-anchor="end" fill="#111">CHIR-99021</text>
<path d="M435.21,570.00V566.50M433.01,566.50H437.41" fill="none" stroke="#000" stroke-width="1.3"/>
<rect x="431.06" y="570.00" width="8.30" height="16.90" fill="#f7e52b" stroke="#000" stroke-width="1.35"/>
<path d="M435.21,586.9V590.6" fill="none" stroke="#000" stroke-width="1.4"/>
<text transform="translate(438.21 600) rotate(-45)" font-size="9.5" text-anchor="end" fill="#111">ICG-001</text>
<path d="M447.79,570.50V569.50M445.59,569.50H449.99" fill="none" stroke="#000" stroke-width="1.3"/>
<rect x="443.64" y="570.50" width="8.30" height="16.40" fill="#f7e52b" stroke="#000" stroke-width="1.35"/>
<path d="M447.79,586.9V590.6" fill="none" stroke="#000" stroke-width="1.4"/>
<text transform="translate(450.79 600) rotate(-45)" font-size="9.5" text-anchor="end" fill="#111">XAV939</text>
<path d="M460.37,529.50V518.75M458.17,518.75H462.57" fill="none" stroke="#000" stroke-width="1.3"/>
<rect x="456.22" y="529.50" width="8.30" height="57.40" fill="#e7231e" stroke="#000" stroke-width="1.35"/>
<path d="M460.37,586.9V590.6" fill="none" stroke="#000" stroke-width="1.4"/>
<text transform="translate(463.37 600) rotate(-45)" font-size="9.5" text-anchor="end" fill="#111">Wnt3a</text>
<path d="M472.95,568.00V563.75M470.75,563.75H475.15" fill="none" stroke="#000" stroke-width="1.3"/>
<rect x="468.80" y="568.00" width="8.30" height="18.90" fill="#f47c20" stroke="#000" stroke-width="1.35"/>
<path d="M472.95,586.9V590.6" fill="none" stroke="#000" stroke-width="1.4"/>
<text transform="translate(475.95 600) rotate(-45)" font-size="9.5" text-anchor="end" fill="#111">Wnt3a + ICG</text>
<path d="M485.53,565.00V560.00M483.33,560.00H487.73" fill="none" stroke="#000" stroke-width="1.3"/>
<rect x="481.38" y="565.00" width="8.30" height="21.90" fill="#f47c20" stroke="#000" stroke-width="1.35"/>
<path d="M485.53,586.9V590.6" fill="none" stroke="#000" stroke-width="1.4"/>
<text transform="translate(488.53 600) rotate(-45)" font-size="9.5" text-anchor="end" fill="#111">Wnt3a + XAV</text>
<text x="398.75" y="474" font-size="9.7" textLength="92" lengthAdjust="spacingAndGlyphs" fill="#111"><tspan font-style="italic">TCF4</tspan> transcripts 10/11</text>
<text transform="translate(384.5 541.5) rotate(-90)" font-size="9.7" text-anchor="middle" textLength="50" lengthAdjust="spacingAndGlyphs" fill="#111">Fold change</text>
<text x="373.75" y="642.6" font-size="10.8" font-weight="bold" fill="#000">i</text>
<path d="M385,635.5H392.5" fill="none" stroke="#6cc07a" stroke-width="0.9"/>
<path d="M408.75,624.75H416.25" fill="none" stroke="#ee6a6a" stroke-width="0.9"/>
<path d="M423,624.75H430.5" fill="none" stroke="#ee6a6a" stroke-width="0.9"/>
<path d="M440,618H447.5" fill="none" stroke="#6cc07a" stroke-width="0.9"/>
<path d="M434.25,638.6H441.75" fill="none" stroke="#a8b070" stroke-width="0.9"/>
<path d="M434.25,640H441.75" fill="none" stroke="#c9a27a" stroke-width="0.9"/>
<path d="M445,640.3H452.5" fill="none" stroke="#a8b070" stroke-width="0.9"/>
<path d="M445,641.7H452.5" fill="none" stroke="#c9a27a" stroke-width="0.9"/>
<path d="M408,558.75V488.75H460V516.25" fill="none" stroke="#000" stroke-width="1.3"/>
<path d="M411.25,558.75V497.5H422.5V500.75" fill="none" stroke="#000" stroke-width="1.3"/>
<path d="M460.75,516.25V499.5H485.75V558.75" fill="none" stroke="#000" stroke-width="1.3"/>
<path d="M463.25,516.25V507.5H473.25V562.5" fill="none" stroke="#000" stroke-width="1.3"/>
<text x="426.11 433.96" y="489.62" font-size="11.5" font-weight="bold" style="font-family:'DejaVu Sans','Liberation Sans',sans-serif" fill="#000">**</text>
<text x="409.76 417.61 425.46 433.31" y="498.87" font-size="11.5" font-weight="bold" style="font-family:'DejaVu Sans','Liberation Sans',sans-serif" fill="#000">****</text>
<text x="462.69 470.54 478.39" y="500.87" font-size="11.5" font-weight="bold" style="font-family:'DejaVu Sans','Liberation Sans',sans-serif" fill="#000">***</text>
<text x="462.69 470.54 478.39" y="509.12" font-size="11.5" font-weight="bold" style="font-family:'DejaVu Sans','Liberation Sans',sans-serif" fill="#000">***</text>
</svg>
</body>
</html>
